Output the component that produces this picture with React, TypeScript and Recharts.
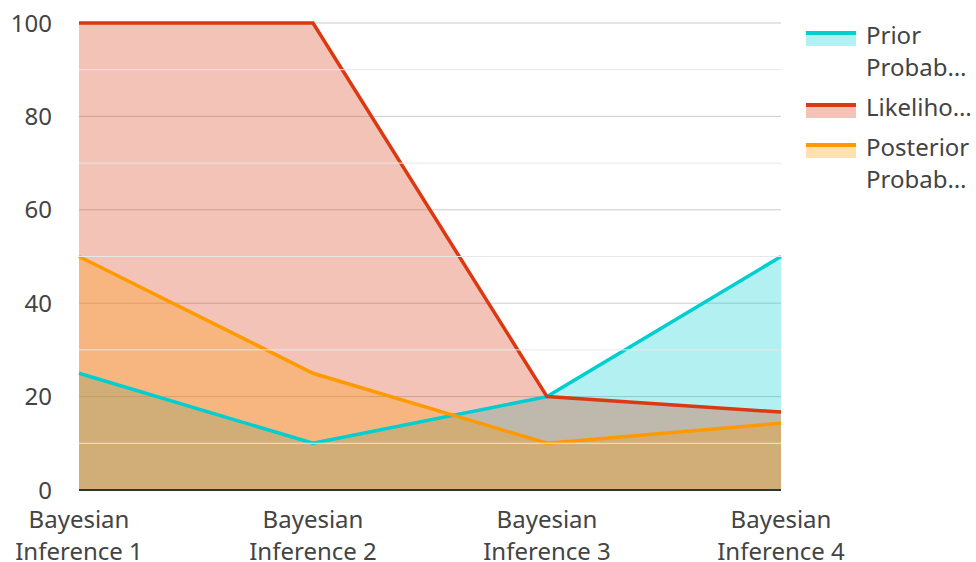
import React from 'react';
import { AreaChart, Area, XAxis, YAxis, CartesianGrid, ReferenceLine } from 'recharts';

const categories = ['Bayesian Inference 1', 'Bayesian Inference 2', 'Bayesian Inference 3', 'Bayesian Inference 4'];
const prior = [25, 10, 20, 50];
const likelihood = [100, 100, 20, 16.7];
const posterior = [50, 25, 10, 14.3];

const yTicks = [0, 20, 40, 60, 80, 100];
const minorTicks = [10, 30, 50, 70, 90];

const seriesList = [
  { key: 'prior', name: 'Prior Probability', color: '#00CED1', lines: ['Prior', 'Probab…'] },
  { key: 'likelihood', name: 'Likelihood', color: '#DC3912', lines: ['Likeliho…'] },
  { key: 'posterior', name: 'Posterior Probability', color: '#FF9900', lines: ['Posterior', 'Probab…'] }
];

const data = categories.map((c, i) => ({
  name: c,
  prior: prior[i],
  likelihood: likelihood[i],
  posterior: posterior[i]
}));

const FONT = '"Noto Sans", sans-serif';
const TEXT = '#444444';

const XTick = (props: any) => {
  const { x, y, payload } = props;
  const words = String(payload.value).split(' ');
  const first = words[0];
  const rest = words.slice(1).join(' ');
  return (
    <text x={x} y={y} textAnchor="middle" fill={TEXT} fontSize={24} fontFamily={FONT}>
      <tspan x={x} dy={30}>{first}</tspan>
      <tspan x={x} dy={32}>{rest}</tspan>
    </text>
  );
};

const LegendBox = () => (
  <div style={{ position: 'absolute', left: 806, top: 19, fontFamily: FONT, fontSize: 24, color: TEXT }}>
    {seriesList.map((s) => (
      <div key={s.key} style={{ display: 'flex', alignItems: 'flex-start', marginBottom: 8 }}>
        <div style={{ width: 50, marginTop: 12, marginRight: 10 }}>
          <div style={{ height: 4, background: s.color }} />
          <div style={{ height: 11, background: s.color, opacity: 0.3 }} />
        </div>
        <div style={{ lineHeight: '32px' }}>
          {s.lines.map((l, i) => (
            <div key={i}>{l}</div>
          ))}
        </div>
      </div>
    ))}
  </div>
);

export default function App() {
  return (
    <div style={{ position: 'absolute', left: 0, top: 0, width: 976, height: 562, background: '#fff' }}>
      <AreaChart width={976} height={562} data={data} margin={{ top: 23, right: 195, left: 0, bottom: 0 }}>
        {minorTicks.map((t) => (
          <ReferenceLine key={t} y={t} stroke="#e8e8e8" strokeWidth={1} />
        ))}
        <CartesianGrid vertical={false} stroke="#cccccc" />
        <XAxis
          dataKey="name"
          height={72}
          tick={<XTick />}
          tickLine={false}
          axisLine={{ stroke: '#333333', strokeWidth: 2 }}
          interval={0}
        />
        <YAxis
          width={79}
          domain={[0, 100]}
          ticks={yTicks}
          axisLine={false}
          tickLine={false}
          tickMargin={21}
          tick={{ fill: TEXT, fontSize: 24, fontFamily: FONT }}
        />
        {seriesList.map((s) => (
          <Area
            key={s.key + '-fill'}
            type="linear"
            dataKey={s.key}
            name={s.name}
            stroke="none"
            fill={s.color}
            fillOpacity={0.3}
            dot={false}
            activeDot={false}
            isAnimationActive={false}
          />
        ))}
        {seriesList.map((s) => (
          <Area
            key={s.key + '-line'}
            type="linear"
            dataKey={s.key}
            name={s.name}
            stroke={s.color}
            strokeWidth={3.5}
            fill="none"
            dot={false}
            activeDot={false}
            isAnimationActive={false}
          />
        ))}
      </AreaChart>
      <LegendBox />
    </div>
  );
}
